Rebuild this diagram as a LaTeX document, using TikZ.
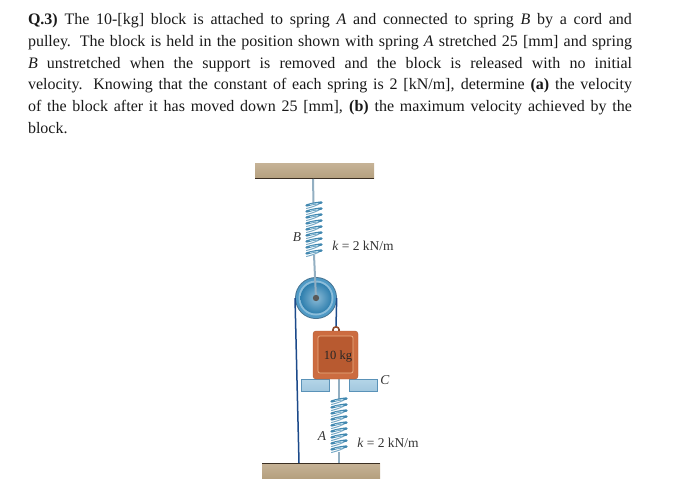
\documentclass[tikz,border=0pt]{standalone}
\usepackage{fontspec}
\setmainfont{Liberation Serif}
\usetikzlibrary{shadings}
\definecolor{wood}{HTML}{C6B397}
\definecolor{woodlo}{HTML}{B5A07F}
\definecolor{woodedge}{HTML}{3A2E22}
\definecolor{rodc}{HTML}{93AFC2}
\definecolor{coilc}{HTML}{4288B0}
\definecolor{coilhi}{HTML}{BBDCEC}
\definecolor{cordc}{HTML}{1C4A8A}
\definecolor{pullout}{HTML}{4F9AC6}
\definecolor{pullin}{HTML}{2F7FAE}
\definecolor{blockc}{HTML}{CC6C40}
\definecolor{blockin}{HTML}{B85A30}
\definecolor{blockrim}{HTML}{EDB184}
\definecolor{stopc}{HTML}{B4D5E8}
\definecolor{stopedge}{HTML}{5A92B8}
\definecolor{labelc}{HTML}{333333}
\tikzset{
  textline/.style={anchor=base west,inner sep=0pt,outer sep=0pt,font=\fontsize{16}{18}\selectfont,text=black!90},
  figlabel/.style={inner sep=0pt,font=\fontsize{13.5}{15}\selectfont,text=labelc},
  woodbar/.style={top color=wood,bottom color=woodlo,draw=none},
  rodline/.style={draw=rodc,line width=2pt},
  coilback/.style={draw=coilc!70!white,line width=1pt,line cap=round},
  coilfront/.style={draw=coilc,line width=2.4pt,line cap=round},
  coilshine/.style={draw=coilhi,line width=.8pt,line cap=round},
  cord/.style={draw=cordc,line width=1.5pt},
  stopblock/.style={top color=stopc,bottom color=stopc!80!stopedge,draw=stopedge,line width=.6pt},
}
\newcommand{\jline}[3]{\node[textline] (#1) at (28,#2) {\makebox[604pt][s]{#3}};}
% \coilspring{x}{y top}: nine turns, 6 px apart
\newcommand{\coilspring}[2]{%
  \foreach \i in {0,...,8}{
    \pgfmathsetmacro{\yy}{#2+6*\i+3}
    \draw[coilback] (#1+7.5,\yy-2.5) .. controls (#1+2,\yy+1) and (#1-2,\yy+2) .. (#1-7.5,\yy+3.5);
  }
  \foreach \i in {0,...,8}{
    \pgfmathsetmacro{\yy}{#2+6*\i+3}
    \draw[coilfront] (#1-7.5,\yy+.5) .. controls (#1-3,\yy-1) and (#1+3,\yy-2) .. (#1+7.5,\yy-2.5);
    \draw[coilshine] (#1-4,\yy-.5) -- (#1+4,\yy-1.6);
  }
}
\begin{document}
\begin{tikzpicture}[x=1pt,y=-1pt]
\useasboundingbox (0,0) rectangle (682,493);
\jline{l1}{24}{\textbf{Q.3)} The 10-[kg] block is attached to spring \textit{A} and connected to spring \textit{B} by a cord and}
\jline{l2}{46}{pulley. The block is held in the position shown with spring \textit{A} stretched 25 [mm] and spring}
\jline{l3}{68}{\textit{B} unstretched when the support is removed and the block is released with no initial}
\jline{l4}{89}{velocity. Knowing that the constant of each spring is 2 [kN/m], determine \textbf{(a)} the velocity}
\jline{l5}{111}{of the block after it has moved down 25 [mm], \textbf{(b)} the maximum velocity achieved by the}
\node[textline] (l6) at (28,133) {block.};

% supports
\path[woodbar] (255,163) rectangle (374,178);
\draw[woodedge,line width=.8pt] (255,178.5) -- (374,178.5);
\path[woodbar] (262,463) rectangle (380,478);
\draw[woodedge,line width=.8pt] (262,463) -- (380,463);

% named points
\coordinate (topfix) at (313,179);
\coordinate (bs) at (313.5,203);
\coordinate (be) at (314,255);
\coordinate (pc) at (316,298);
\coordinate (as) at (339,399);
\coordinate (ae) at (339,452);
\coordinate (afix) at (339,463);
\coordinate (hook) at (336,327);
\coordinate (cl) at (295,298);
\coordinate (cr) at (336.7,298);
\coordinate (clb) at (299,463);
\coordinate (blockb) at (339,379);

% spring B
\draw[rodline] (topfix) -- (bs);
\coilspring{314}{202}

% pulley
\fill[stopedge!80!black] (pc) circle (21);
\fill[pullout] (pc) circle (20);
\fill[stopc!60!pullout] (pc) circle (17.5);
\shade[inner color=stopc!70!pullin,outer color=pullin] (pc) circle (15.5);
\draw[rodline] (be) -- (pc);
\fill[black!65] (pc) circle (3.2);

% cord
\draw[cord] (cl) -- (clb);
\draw[cord] (cr) -- (hook);

% stops
\node[stopblock,minimum width=28pt,minimum height=12pt,inner sep=0pt] (cleft) at (315,385) {};
\node[stopblock,minimum width=28pt,minimum height=12pt,inner sep=0pt] (cright) at (363,385) {};

% spring A
\draw[rodline] (blockb) -- (as);
\draw[rodline] (ae) -- (afix);
\coilspring{339}{398}

% block
\draw[blockc!70!black,line width=1.6pt] (336,330) circle (3.2);
\node[fill=blockc,draw=blockc!85!black,rounded corners=3pt,minimum width=45pt,minimum height=48pt,inner sep=0pt] (blk) at (335.5,355) {};
\node[fill=blockin,draw=blockrim,rounded corners=2pt,line width=.7pt,minimum width=35pt,minimum height=37pt,inner sep=0pt] (blkin) at (335.5,354.5) {};
\node[figlabel,text=black!85,font=\fontsize{12.5}{14}\selectfont] (mass) at (338,357) {10 kg};

% labels
\node[figlabel] (lb) at (297,237) {\textit{B}};
\node[figlabel] (k1) at (363,246) {\textit{k} = 2 kN/m};
\node[figlabel] (lc) at (385,380) {\textit{C}};
\node[figlabel] (la) at (322,436) {\textit{A}};
\node[figlabel] (k2) at (388,443) {\textit{k} = 2 kN/m};
\end{tikzpicture}
\end{document}
